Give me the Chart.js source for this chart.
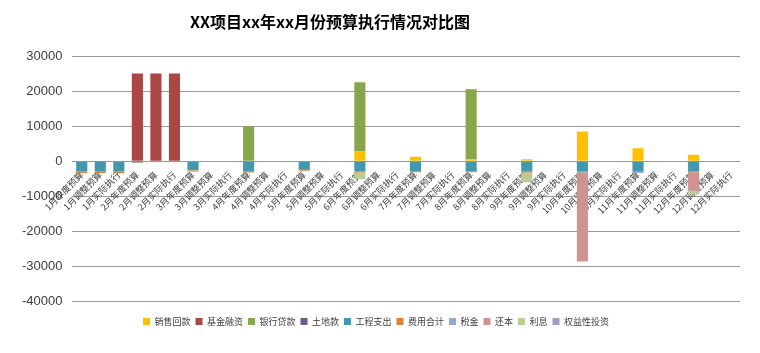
<!DOCTYPE html>
<html>
<head>
<meta charset="utf-8">
<script src="https://cdn.jsdelivr.net/npm/chart.js@4.4.1/dist/chart.umd.min.js"></script>
<style>
    body { margin: 0; background: #fff; }
    #wrap { width: 760px; height: 353px; }
</style>
</head>
<body>
<div id="wrap"><canvas id="budget-chart"></canvas></div>
<script>
const months = ['1月', '2月', '3月', '4月', '5月', '6月', '7月', '8月', '9月', '10月', '11月', '12月'];
const kinds = ['年度预算', '调整预算', '实际执行'];
const categories = [];
months.forEach(m => kinds.forEach(k => categories.push(m + k)));

const yTicks = [30000, 20000, 10000, 0, -10000, -20000, -30000, -40000];

const _ = null;
// 36 values each: month by month, [年度预算, 调整预算, 实际执行]
const salesReceipts = [_,_,_, _,_,_, _,_,_, _,_,_, _,_,_, 2800,_,_, 1300,_,_, 600,_,_, 600,_,_, 8500,_,_, 3700,_,_, 1900,_,_];
const fundFinancing = [_,_,_, 25000,25000,25000, _,_,_, _,_,_, _,_,_, _,_,_, _,_,_, _,_,_, _,_,_, _,_,_, _,_,_, _,_,_];
const bankLoans     = [_,_,_, _,_,_, _,_,_, 10000,_,_, _,_,_, 19700,_,_, _,_,_, 19900,_,_, _,_,_, _,_,_, _,_,_, _,_,_];
const landPayments  = [_,_,_, _,_,_, _,_,_, _,_,_, _,_,_, _,_,_, _,_,_, _,_,_, _,_,_, _,_,_, _,_,_, _,_,_];
const construction  = [-2800,-2800,-2800, -300,_,_, -2500,_,_, -2800,_,_, -2400,_,_, -2900,_,_, -2800,_,_, -2800,_,_, -2900,_,_, -2800,_,_, -2800,_,_, -2800,_,_];
const expenses      = [-500,-500,-600, -200,_,_, -100,_,_, -400,_,_, -300,_,_, -300,_,_, -300,_,_, -300,_,_, -300,_,_, -300,_,_, -200,_,_, -300,_,_];
const taxes         = [_,_,_, _,_,_, _,_,_, _,_,_, _,_,_, _,_,_, _,_,_, _,_,_, -100,_,_, -200,_,_, -300,_,_, _,_,_];
const principal     = [_,_,_, _,_,_, _,_,_, _,_,_, _,_,_, _,_,_, _,_,_, _,_,_, _,_,_, -25200,_,_, _,_,_, -5200,_,_];
const interest      = [_,_,_, _,_,_, -400,_,_, _,_,_, _,_,_, -1800,_,_, _,_,_, _,_,_, -2600,_,_, _,_,_, _,_,_, -1100,_,_];
const equityInvest  = [_,_,_, _,_,_, _,_,_, _,_,_, _,_,_, _,_,_, _,_,_, _,_,_, _,_,_, _,_,_, _,_,_, _,_,_];

const series = [
    { label: '销售回款', data: salesReceipts, color: '#FFC000' },
    { label: '基金融资', data: fundFinancing, color: '#AA4643' },
    { label: '银行贷款', data: bankLoans, color: '#89A54E' },
    { label: '土地款', data: landPayments, color: '#71588F' },
    { label: '工程支出', data: construction, color: '#4198AF' },
    { label: '费用合计', data: expenses, color: '#DB843D' },
    { label: '税金', data: taxes, color: '#93A9CF' },
    { label: '还本', data: principal, color: '#D19392' },
    { label: '利息', data: interest, color: '#B9CD96' },
    { label: '权益性投资', data: equityInvest, color: '#A99BBD' }
];

const chartTitle = 'XX项目xx年xx月份预算执行情况对比图';
const cjk = '"Noto Sans CJK SC", "Microsoft YaHei", sans-serif';

// the title sits left of centre in the original, so draw it by hand
const titlePlugin = {
    id: 'offsetTitle',
    afterDraw(chart) {
        const ctx = chart.ctx;
        ctx.save();
        ctx.font = 'bold 16px ' + cjk;
        ctx.fillStyle = '#000';
        ctx.textAlign = 'center';
        ctx.textBaseline = 'middle';
        ctx.fillText(chartTitle, 330, 22);
        ctx.restore();
    }
};

new Chart(document.getElementById('budget-chart').getContext('2d'), {
    type: 'bar',
    data: {
        labels: categories,
        datasets: series.map(s => ({
            label: s.label,
            data: s.data,
            backgroundColor: s.color,
            borderWidth: 0,
            categoryPercentage: 1,
            barPercentage: 0.6
        }))
    },
    options: {
        responsive: true,
        maintainAspectRatio: false,
        animation: false,
        layout: { padding: { left: 12, right: 20, top: 56, bottom: 17 } },
        scales: {
            x: {
                stacked: true,
                position: { y: 0 },
                grid: { display: false },
                border: { display: false },
                ticks: {
                    autoSkip: false,
                    maxRotation: 45,
                    minRotation: 45,
                    padding: 0,
                    color: '#404040',
                    font: { family: cjk, size: 9 }
                }
            },
            y: {
                stacked: true,
                min: -40000,
                max: 30000,
                afterBuildTicks: axis => { axis.ticks = yTicks.map(v => ({ value: v })); },
                grid: { color: '#9a9a9a', drawTicks: false },
                border: { display: false },
                ticks: {
                    padding: 10,
                    color: '#404040',
                    font: { family: '"Liberation Sans", sans-serif', size: 13 },
                    callback: value => String(value)
                }
            }
        },
        plugins: {
            title: { display: false },
            legend: {
                position: 'bottom',
                title: { display: true, text: '', font: { size: 1 }, padding: { top: 9, bottom: 0 } },
                labels: {
                    boxWidth: 7,
                    boxHeight: 7,
                    padding: 5,
                    color: '#404040',
                    font: { family: cjk, size: 9 }
                }
            },
            tooltip: { enabled: false }
        }
    },
    plugins: [titlePlugin]
});
</script>
</body>
</html>
